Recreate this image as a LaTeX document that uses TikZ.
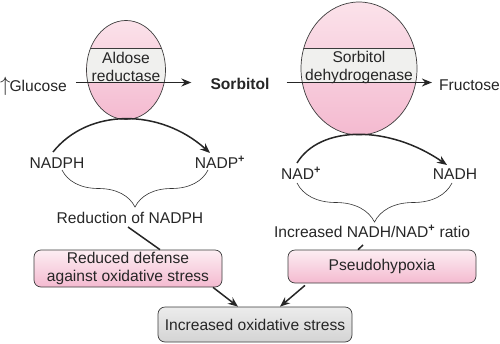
\documentclass[tikz,border=0pt]{standalone}
\usepackage{fontspec}
\setmainfont{Liberation Sans}
\usetikzlibrary{arrows.meta,positioning,calc,decorations.pathreplacing}
\definecolor{pinkhi}{RGB}{251,226,234}
\definecolor{pinklo}{RGB}{244,186,208}
\definecolor{bandgray}{RGB}{240,240,238}
\definecolor{greyhi}{RGB}{236,236,236}
\definecolor{greylo}{RGB}{212,212,212}
\definecolor{edge}{RGB}{60,60,60}
\begin{document}
\begin{tikzpicture}[x=1pt,y=-1pt,>=Stealth,
 font=\fontsize{15.6}{18}\selectfont,
 lbl/.style={inner sep=0pt,anchor=base,text=black!85},
 enz/.style={inner sep=0pt,align=center,text=black!85},
 arr/.style={->,line width=1.5pt,black!85,>={Stealth[length=10pt,width=8pt]}},
 brc/.style={decorate,decoration={brace,mirror,amplitude=37pt},line width=0.6pt,black!80},
 pinkbox/.style={draw=edge,line width=0.7pt,rounded corners=7pt,top color=pinkhi!60!white,bottom color=pinklo,
   minimum width=188pt,align=center,inner sep=0pt,text=black!85},
 greybox/.style={draw=edge,line width=0.7pt,rounded corners=7pt,top color=greyhi,bottom color=greylo,
   minimum width=194pt,minimum height=35pt,inner sep=0pt,text=black!85}]
\useasboundingbox (0,0) rectangle (500,343);
% enzyme ellipses with their grey band
\foreach \cx/\cy/\rx/\ry in {126/70/39.5/49.5,359/68.5/58/66.5}{
  \shade[top color=pinkhi,bottom color=pinklo] (\cx,\cy) ellipse [x radius=\rx,y radius=\ry];
  \begin{scope}
    \clip (\cx,\cy) ellipse [x radius=\rx,y radius=\ry];
    \fill[bandgray] (\cx-\rx,48) rectangle (\cx+\rx,82.5);
    \draw[edge,line width=0.7pt] (\cx-\rx,48) -- (\cx+\rx,48);
  \end{scope}
  \draw[edge,line width=0.7pt] (\cx,\cy) ellipse [x radius=\rx,y radius=\ry];
}
\node[enz] (ar) at (126,67) {Aldose\\reductase};
\node[enz] (sdh) at (359,67) {Sorbitol\\dehydrogenase};
% main pathway
\coordinate (axis) at (0,82.5);
\node[lbl,anchor=base west] (glc) at (0,91) {{\fontsize{20}{18}\selectfont$\uparrow$}\kern-1pt Glucose};
\node[lbl,font=\fontsize{15.6}{18}\selectfont\bfseries] (sorb) at (240,89) {Sorbitol};
\node[lbl,anchor=base east] (fru) at (500,90) {Fructose};
\draw[arr,shorten <=9pt,shorten >=19pt] (glc.east |- axis) -- (sorb.west |- axis);
\draw[arr,shorten <=17pt,shorten >=7pt] (sorb.east |- axis) -- (fru.west |- axis);
% cofactors
\node[lbl] (nadph) at (57,168) {NADPH};
\node[lbl] (nadpp) at (220,168) {NADP\textsuperscript{\textbf{+}}};
\node[lbl] (nad) at (301,179) {NAD\textsuperscript{\textbf{+}}};
\node[lbl] (nadh) at (455,179) {NADH};
\draw[arr] ([shift={(-4,-16)}]nadph.base) .. controls +(35,-44) and +(-50,-45) .. ([shift={(-10,-15)}]nadpp.base);
\draw[arr] ([shift={(-4,-16)}]nad.base) .. controls +(23,-38) and +(-58,-40) .. ([shift={(-8,-14)}]nadh.base);
% braces and consequences
\draw[brc] ([shift={(5,2)}]nadph.base) -- ([shift={(-12,2)}]nadpp.base);
\draw[brc,decoration={amplitude=39pt}] ([shift={(-4,4)}]nad.base) -- ([shift={(-3,4)}]nadh.base);
\node[lbl] (redn) at (130,223) {Reduction of NADPH};
\node[lbl] (ratio) at (372,237) {Increased NADH/NAD\textsuperscript{\textbf{+}} ratio};
\node[pinkbox,minimum height=37pt] (defense) at (128,268.5) {Reduced defense\\against oxidative stress};
\node[pinkbox,minimum height=33pt] (pseudo) at (382,266.5) {Pseudohypoxia};
\node[greybox] (stress) at (255,324.5) {Increased oxidative stress};
\draw[line width=1.5pt,black!85] ([shift={(-2,4)}]redn.base) -- ([xshift=32pt]defense.north);
\draw[line width=1.5pt,black!85] ([shift={(-9,8)}]ratio.base) -- ([xshift=-24pt]pseudo.north);
\draw[arr] ([xshift=85pt]defense.south) -- ([xshift=-17pt]stress.north);
\draw[arr] ([shift={(-77,2)}]pseudo.south) -- ([xshift=25pt]stress.north);
\end{tikzpicture}
\end{document}
